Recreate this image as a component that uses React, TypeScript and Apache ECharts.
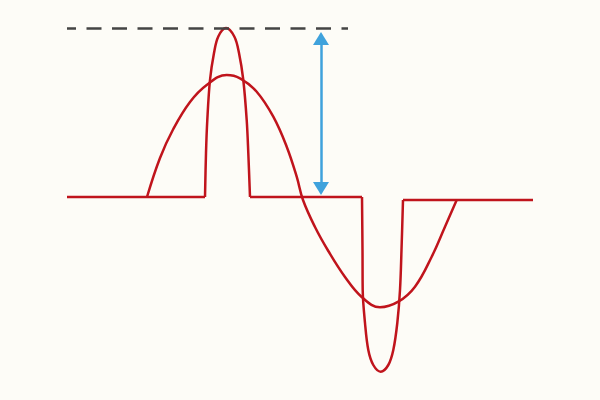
import React, { useEffect, useRef } from "react";
import * as echarts from "echarts";

// Coordinates: x = horizontal position (units), y = signal amplitude (units, 0 = baseline)
const baseLeft: [number, number][] = [[0, 3], [138, 3]];
const pulseUp: [number, number][] = [
  [138, 3], [139, 47], [140.3, 80], [143, 120], [147, 147], [151.3, 163.5], [159, 172],
  [167.3, 163.5], [172, 147], [176.3, 120], [179.7, 80], [181.3, 47], [183, 3],
];
const baseMid: [number, number][] = [[183, 3], [295, 3]];
const pulseDown: [number, number][] = [
  [295, 3], [295.5, -50], [295.7, -90], [298, -123], [301.3, -150], [306.3, -165], [313.7, -171.7],
  [321.3, -165], [326.3, -150], [330.3, -123], [333, -90], [334.5, -50], [336, 0],
];
const baseRight: [number, number][] = [[336, 0], [466, 0]];
const wideWave: [number, number][] = [
  [80, 3], [93, 42], [106.3, 71], [123, 98], [139.7, 115], [159.7, 125], [173, 121.7],
  [189.7, 108.3], [206.3, 83.3], [219.7, 53.3], [229.7, 23.3], [236, 0], [248, -27],
  [261.3, -51], [278, -77], [294.7, -97], [313, -107.3], [331.3, -101.7], [348, -86.7],
  [364.7, -56.7], [378, -26.7], [389.7, 0],
];
const peakLevel = 172;
const peakLineX: [number, number] = [0, 281];
const arrowX = 254;
const arrowY: [number, number] = [161.5, 11.5];

const RED = "#c0141c";
const BLUE = "#3fa2dc";
const GREY = "#444444";

export default function App() {
  const ref = useRef<HTMLDivElement>(null);
  useEffect(() => {
    document.body.style.margin = "0";
    document.body.style.background = "#fdfcf7";
    const chart = echarts.init(ref.current!, null, { renderer: "svg" });
    const redLine = (data: [number, number][], smooth: number | boolean) => ({
      type: "line",
      data,
      smooth,
      symbol: "none",
      lineStyle: { color: RED, width: 2.5 },
      z: 3,
    });
    const dashStyle = { color: GREY, width: 2.5, type: [15, 10.5], dashOffset: 6 };
    const arrowStyle = { color: BLUE, width: 2.5, type: "solid" };
    chart.setOption({
      animation: false,
      backgroundColor: "#fdfcf7",
      grid: { left: 67, right: 67, top: 0, bottom: 0 },
      xAxis: { type: "value", min: 0, max: 466, show: false },
      yAxis: { type: "value", min: -200, max: 200, show: false },
      series: [
        redLine(baseLeft, false),
        redLine(pulseUp, 0.35),
        redLine(baseMid, false),
        redLine(pulseDown, 0.35),
        redLine(baseRight, false),
        redLine(wideWave, 0.4),
        {
          type: "line",
          data: [],
          symbol: "none",
          markLine: {
            silent: true,
            animation: false,
            label: { show: false },
            emphasis: { disabled: true },
            data: [
              [
                { coord: [peakLineX[0], peakLevel], symbol: "none", lineStyle: dashStyle },
                { coord: [peakLineX[1], peakLevel], symbol: "none", lineStyle: dashStyle },
              ],
              [
                { coord: [arrowX, arrowY[0]], symbol: "triangle", symbolSize: [16, 13], lineStyle: arrowStyle, itemStyle: { color: BLUE } },
                { coord: [arrowX, arrowY[1]], symbol: "triangle", symbolSize: [16, 13], lineStyle: arrowStyle, itemStyle: { color: BLUE } },
              ],
            ],
          },
        },
      ],
    });
    return () => chart.dispose();
  }, []);
  return <div ref={ref} style={{ position: "fixed", left: 0, top: 0, width: 600, height: 400 }} />;
}
